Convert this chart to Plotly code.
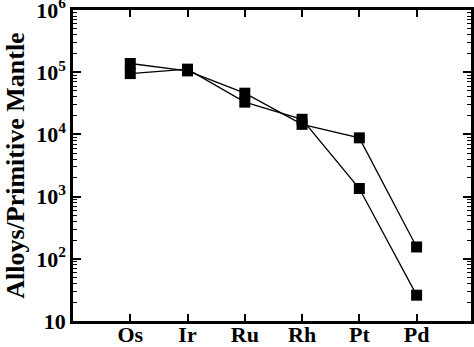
import plotly.graph_objects as go

elements = ["Os", "Ir", "Ru", "Rh", "Pt", "Pd"]
series_a = [1.38e5, 1.05e5, 4.6e4, 1.45e4, 8.8e3, 155]
series_b = [9.5e4, 1.12e5, 3.3e4, 1.75e4, 1.35e3, 26]
ytick_vals = [10, 1e2, 1e3, 1e4, 1e5, 1e6]
ytick_text = ["10", "10<sup>2</sup>", "10<sup>3</sup>", "10<sup>4</sup>", "10<sup>5</sup>", "10<sup>6</sup>"]

xidx = list(range(len(elements)))
fig = go.Figure()
for s in (series_a, series_b):
    fig.add_trace(go.Scatter(
        x=xidx, y=s, mode="lines+markers",
        line=dict(color="black", width=1.3),
        marker=dict(symbol="square", size=11, color="black"),
        showlegend=False,
    ))

xfont = dict(family="Liberation Serif", size=22, color="black")
yfont = dict(family="Liberation Serif", size=22, color="black")
fig.update_layout(
    width=474, height=347,
    margin=dict(l=73, r=3, t=10, b=26),
    paper_bgcolor="white", plot_bgcolor="white",
    font=yfont,
    xaxis=dict(
        range=[-1, 5.95], tickvals=xidx,
        ticktext=[f"<b>{e}</b>" for e in elements],
        ticks="inside", ticklen=7, tickwidth=1.5, tickcolor="black",
        showline=True, linewidth=2.5, linecolor="black", mirror="ticks",
        showgrid=False, zeroline=False, tickfont=xfont,
        ticklabeloverflow="allow", automargin=False, ticklabelstandoff=-8,
    ),
    yaxis=dict(
        type="log", range=[0.9999, 6.0001],
        tickvals=ytick_vals, ticktext=[f"<b>{t}</b>" for t in ytick_text],
        ticks="inside", ticklen=8, tickwidth=1.5, tickcolor="black",
        minor=dict(ticks="inside", ticklen=4, tickwidth=1, tickcolor="black",
                   showgrid=False, dtick="D1"),
        showline=True, linewidth=2.5, linecolor="black", mirror="ticks",
        showgrid=False, zeroline=False, tickfont=yfont,
        ticklabeloverflow="allow", automargin=False,
    ),
    annotations=[dict(
        text="<b>Alloys/Primitive Mantle</b>", textangle=-90,
        xref="paper", yref="paper", x=-0.145, y=0.5,
        xanchor="center", yanchor="middle", showarrow=False,
        font=dict(family="Liberation Serif", size=26, color="black"),
    )],
)
fig.write_html("out.html")
